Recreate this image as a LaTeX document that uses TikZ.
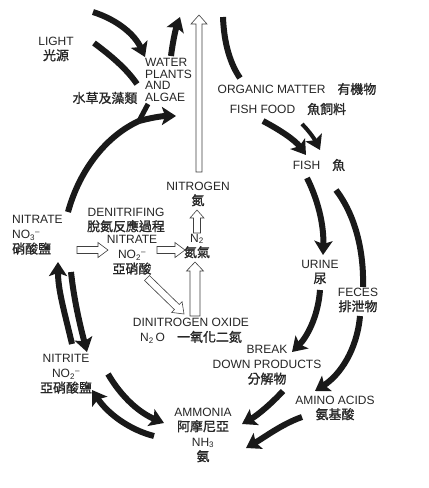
\documentclass[tikz,border=0pt]{standalone}
\usepackage{fontspec}
\setmainfont{Liberation Sans}
\newfontfamily\cjk[Scale=1.08,FakeBold=1.2]{Noto Sans CJK TC}
\usetikzlibrary{arrows.meta,calc}
\newcommand{\C}[1]{{\cjk #1}}
\newcommand\harrow[5]{%
  \coordinate (hbtmp) at ($(#2)!#5!(#1)$);
  \draw[hol] ($(#1)!#3!90:(#2)$) -- ($(hbtmp)!#3!90:(#2)$) -- ($(hbtmp)!#4!90:(#2)$) -- (#2)
    -- ($(hbtmp)!#4!-90:(#2)$) -- ($(hbtmp)!#3!-90:(#2)$) -- ($(#1)!#3!-90:(#2)$) -- cycle;}
\begin{document}
\begin{tikzpicture}[x=1pt,y=-1pt,
  lbl/.style={inner sep=0pt, align=center, text=black!85, font=\fontsize{12}{15}\selectfont},
  blk/.style={line width=6pt, black!90, -{Stealth[length=14pt,width=18pt,inset=3pt]}},
  blkplain/.style={line width=6pt, black!90},
  hol/.style={draw=black!75, line width=0.6pt, fill=white, line join=miter}]
\useasboundingbox (0,0) rectangle (429,488);
\fill[white] (0,0) rectangle (429,488);

% ---------- labels ----------
\node[lbl] (light) at (56,49) {LIGHT\\\C{光源}};
\node[lbl, align=left, anchor=north west, font=\fontsize{12}{11.5}\selectfont] (plants) at (145,58.5) {WATER\\PLANTS\\AND\\ALGAE};
\node[lbl] (plantszh) at (105,98) {\C{水草及藻類}};
\node[lbl] (organic) at (297,89) {ORGANIC MATTER\quad\C{有機物}};
\node[lbl] (food) at (288,109) {FISH FOOD\quad\C{魚飼料}};
\node[lbl] (fish) at (319,165) {FISH\quad\C{魚}};
\node[lbl] (nitrogen) at (198,194) {NITROGEN\\\C{氮}};
\node[lbl] (den) at (126,220) {DENITRIFING\\\C{脫氮反應過程}};
\node[lbl] (nitrateb) at (132,255) {NITRATE\\NO\textsubscript{2}\textsuperscript{--}\\\C{亞硝酸}};
\node[lbl] (n2) at (197,246) {N\textsubscript{2}\\\C{氮氣}};
\node[lbl, align=left, anchor=west] (nitrate) at (12,235) {NITRATE\\NO\textsubscript{3}\textsuperscript{--}\\\C{硝酸鹽}};
\node[lbl] (n2o) at (191,331) {DINITROGEN OXIDE\\N\textsubscript{2}\,O\quad\C{一氧化二氮}};
\node[lbl] (urine) at (320,272) {URINE\\\C{尿}};
\node[lbl] (feces) at (358,300) {FECES\\\C{排泄物}};
\node[lbl] (break) at (267,365) {BREAK\\DOWN PRODUCTS\\\C{分解物}};
\node[lbl] (amino) at (335,408) {AMINO ACIDS\\\C{氨基酸}};
\node[lbl] (ammonia) at (203,435) {AMMONIA\\\C{阿摩尼亞}\\NH\textsubscript{3}\\\C{氨}};
\node[lbl] (nitrite) at (66,374) {NITRITE\\NO\textsubscript{2}\textsuperscript{--}\\\C{亞硝酸鹽}};

% ---------- connector end points ----------
\coordinate (l1s) at (93,12);   \coordinate (l1e) at (145,57);
\coordinate (l2s) at (94,43);   \coordinate (l2e) at (137,84);
\coordinate (pus) at (171,56);  \coordinate (pue) at (180,17);
\coordinate (pos) at (223,17);  \coordinate (poe) at (240,78);
\coordinate (nps) at (68,212);  \coordinate (npf) at (139,121);
\coordinate (npe) at (176,116); \coordinate (npt) at (148,104);
\coordinate (ff1s) at (263,121); \coordinate (ff1e) at (306,155);
\coordinate (ff2s) at (302,124); \coordinate (ff2e) at (320,150);
\coordinate (fus) at (307,178); \coordinate (fue) at (323,255);
\coordinate (ffs) at (336,190); \coordinate (ffe) at (363,287);
\coordinate (ubs) at (320,290); \coordinate (ube) at (292,352);
\coordinate (fas) at (360,316); \coordinate (fae) at (315,391);
\coordinate (bas) at (283,391); \coordinate (bae) at (242,424);
\coordinate (aas) at (302,417); \coordinate (aae) at (246,448);
\coordinate (nas) at (108,374); \coordinate (nae) at (164,423);
\coordinate (ans) at (154,436); \coordinate (ane) at (92,390);
\coordinate (nns) at (72,344);  \coordinate (nne) at (58,262);
\coordinate (tns) at (71,272);  \coordinate (tne) at (87,352);

% ---------- black arrows ----------
\draw[blk] (l1s) .. controls (118,20) and (135,35) .. (l1e);
\draw[blkplain] (l2s) .. controls (110,55) and (126,68) .. (l2e);
\draw[blk] (pus) .. controls (173,40) and (176,28) .. (pue);
\draw[blkplain] (pos) .. controls (224,45) and (231,65) .. (poe);
\draw[blkplain] (nps) .. controls (80,168) and (108,135) .. (npf);
\draw[blk] (npf) .. controls (150,118) and (162,116) .. (npe);
\draw[line width=5pt, black!90] (npf) -- (npt);
\draw[blk] (ff1s) .. controls (280,130) and (295,140) .. (ff1e);
\draw[blk, line width=4pt] (ff2s) .. controls (310,132) and (315,140) .. (ff2e);
\draw[blk] (fus) .. controls (318,200) and (324,225) .. (fue);
\draw[blkplain] (ffs) .. controls (355,215) and (364,250) .. (ffe);
\draw[blk] (ubs) .. controls (318,318) and (306,338) .. (ube);
\draw[blk] (fas) .. controls (357,350) and (340,375) .. (fae);
\draw[blk] (bas) .. controls (272,403) and (258,415) .. (bae);
\draw[blk] (aas) .. controls (282,424) and (265,437) .. (aae);
\draw[blk] (nas) .. controls (122,398) and (140,413) .. (nae);
\draw[blk] (ans) .. controls (130,430) and (108,414) .. (ane);
\draw[blk] (nns) .. controls (64,310) and (58,290) .. (nne);
\draw[blk] (tns) .. controls (74,300) and (80,325) .. (tne);

% ---------- hollow arrows ----------
\coordinate (h1s) at (199,172); \coordinate (h1e) at (199,15);
\coordinate (h2s) at (197,233); \coordinate (h2e) at (197,210);
\coordinate (h3s) at (195,316); \coordinate (h3e) at (195,262);
\coordinate (h4s) at (77,250);  \coordinate (h4e) at (108,250);
\coordinate (h5s) at (157,250); \coordinate (h5e) at (185,250);
\coordinate (h6s) at (147,278); \coordinate (h6e) at (184,314);
\harrow{h1s}{h1e}{3pt}{8pt}{9pt}
\harrow{h2s}{h2e}{3.5pt}{7pt}{8pt}
\harrow{h3s}{h3e}{5pt}{8.5pt}{9pt}
\harrow{h4s}{h4e}{3.5pt}{7.5pt}{10pt}
\harrow{h5s}{h5e}{3.5pt}{7.5pt}{10pt}
\harrow{h6s}{h6e}{3.5pt}{7.5pt}{10pt}
\end{tikzpicture}
\end{document}
